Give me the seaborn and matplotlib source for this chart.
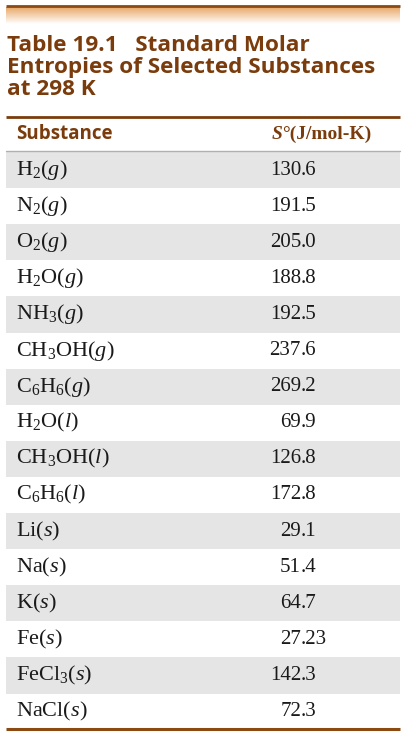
import matplotlib
matplotlib.use("Agg")
import matplotlib.pyplot as plt
import seaborn as sns
import numpy as np
from matplotlib.colors import LinearSegmentedColormap

substances = ["H$_2$($g$)", "N$_2$($g$)", "O$_2$($g$)", "H$_2$O($g$)", "NH$_3$($g$)",
              "CH$_3$OH($g$)", "C$_6$H$_6$($g$)", "H$_2$O($l$)", "CH$_3$OH($l$)",
              "C$_6$H$_6$($l$)", "Li($s$)", "Na($s$)", "K($s$)", "Fe($s$)",
              "FeCl$_3$($s$)", "NaCl($s$)"]
entropies = ["130.6", "191.5", "205.0", "188.8", "192.5", "237.6", "269.2", "69.9",
             "126.8", "172.8", "29.1", "51.4", "64.7", "27.23", "142.3", "72.3"]
title_lines = ["Table 19.1   Standard Molar", "Entropies of Selected Substances", "at 298 K"]
col_headers = ["Substance", "°(J/mol-K)"]

sns.set_theme(style="white")
plt.rcParams["mathtext.fontset"] = "custom"
plt.rcParams["mathtext.rm"] = "Liberation Serif"
plt.rcParams["mathtext.it"] = "Liberation Serif:italic"
plt.rcParams["font.family"] = ["Liberation Serif", "DejaVu Sans"]

W, H = 405, 735
fig = plt.figure(figsize=(W / 100, H / 100), dpi=100)
ax = fig.add_axes([0, 0, 1, 1])
ax.set_xlim(0, W)
ax.set_ylim(H, 0)
ax.axis("off")

brown = "#7a3c0c"
L, R = 6, 400
ax.plot([L, R], [6, 6], color="#8a4a12", lw=2, solid_capstyle="butt")
grad = np.linspace(0, 1, 50).reshape(-1, 1)
cm = LinearSegmentedColormap.from_list("o", ["#e8a868", "#ffffff"])
ax.imshow(grad, cmap=cm, extent=[L, R, 24, 7], aspect="auto", zorder=0)

tfont = dict(family=["Open Sans", "DejaVu Sans"], weight="bold", fontsize=16.2, color=brown)
for i, t in enumerate(title_lines):
    ax.text(L + 1, 45 + i * 22, t, va="center", ha="left", **tfont)

ax.plot([L, R], [117, 117], color=brown, lw=2, solid_capstyle="butt")
hfont = dict(family=["Open Sans", "DejaVu Sans"], weight="bold", fontsize=13.5, color=brown)
ax.text(16, 134, col_headers[0], va="center", ha="left", **hfont)
ax.text(272, 134, "S", va="center", ha="left", family="Liberation Serif", style="italic",
        weight="bold", fontsize=14, color=brown)
ax.text(282, 134, col_headers[1], va="center", ha="left", family="Liberation Serif",
        weight="bold", fontsize=14, color=brown)
ax.plot([L, R], [151, 151], color="#b0b0b0", lw=1)

pitch = 36.1
top = 152
for i, (s, v) in enumerate(zip(substances, entropies)):
    y0 = top + i * pitch
    if i % 2 == 0:
        ax.fill_between([L, R], y0, y0 + pitch, color="#e5e5e5", lw=0, zorder=0)
    yc = y0 + pitch / 2
    ax.text(16, yc, s, va="center", ha="left", fontsize=16, color="#1a1a1a")
    ip, fp = v.split(".")
    ax.text(301, yc, ip, va="center", ha="right", fontsize=15, color="#1a1a1a")
    ax.text(301, yc, "." + fp, va="center", ha="left", fontsize=15, color="#1a1a1a")

ax.plot([L, R], [729, 729], color="#8a4a12", lw=2.2, solid_capstyle="butt")
fig.savefig("out.png", dpi=100)
